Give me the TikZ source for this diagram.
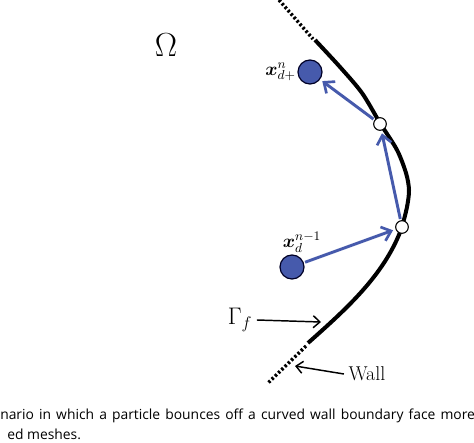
\RequirePackage{fix-cm}
\documentclass[tikz,border=0pt]{standalone}
\usepackage{bm}
\usepackage{fontspec}
\newfontfamily\capfont{Open Sans}
\usetikzlibrary{arrows.meta}
\definecolor{azul}{RGB}{70,90,172}
\tikzset{
  particula/.style={circle, draw=black!85!blue, line width=0.9pt, fill=azul,
    minimum size=18pt, inner sep=0pt},
  impacto/.style={circle, draw, line width=0.8pt, fill=white,
    minimum size=9.5pt, inner sep=0pt},
  tray/.style={azul, line width=2.2pt,
    -{Straight Barb[length=6.5pt,width=11pt,line width=2pt]},
    shorten >=2pt, shorten <=1pt},
  flecha/.style={line width=1.1pt, -{Straight Barb[length=5pt,width=9pt]}},
  pared/.style={line width=3pt},
  punteada/.style={line width=2.6pt, dash pattern=on 1.8pt off 1.6pt},
}
\begin{document}
\begin{tikzpicture}[x=0.75pt,y=-0.75pt]
\useasboundingbox (0,0) rectangle (474,442);
% Dominio
\node (om) at (166,45) {\fontsize{25}{28}\selectfont $\Omega$};
% Pared
\draw[punteada] (279,0) -- (313,39);
\draw[pared] plot[smooth, tension=0.5] coordinates {(315,40) (340,67) (362,93)
  (380,123) (397,150) (406,173) (409,190) (407,207) (402,227)};
\draw[pared] (402,227) .. controls (385,275) and (345,310) .. (308,343);
\draw[punteada] (306,346) -- (268,383);
% Particulas
\node[particula] (pn) at (310,72) {};
\node[particula] (pa) at (292,267) {};
\node[impacto] (ia) at (380,124) {};
\node[impacto] (ib) at (402,227) {};
\node[anchor=east, inner sep=1pt] (lpn) at (pn.west)
  {\fontsize{14}{16}\selectfont $\bm{x}^{n}_{d+}$};
\node (lpa) at (302,242) {\fontsize{14}{16}\selectfont $\bm{x}^{n-1}_{d}$};
% Trayectoria
\draw[tray] (pa) -- (ib);
\draw[tray] (ib) -- (ia);
\draw[tray] (ia) -- (pn);
% Etiquetas
\node (gf) at (240,320) {\fontsize{18}{20}\selectfont $\Gamma_f$};
\coordinate (cg) at (321,322);
\draw[flecha] (gf.east) -- (cg);
\node (wl) at (367,374) {\fontsize{15}{17}\selectfont Wall};
\coordinate (cw) at (295,366);
\draw[flecha] (wl.west) -- (cw);
% Pie
\node[anchor=base west, inner sep=0pt] (c1) at (0,419)
  {\capfont\fontsize{10.4}{12}\selectfont\hbox to 356pt{nario in which a particle bounces off a curved wall boundary face more}};
\node[anchor=base west, inner sep=0pt] (c2) at (7,439)
  {\capfont\fontsize{10.4}{12}\selectfont ed\ meshes.};
\end{tikzpicture}
\end{document}
